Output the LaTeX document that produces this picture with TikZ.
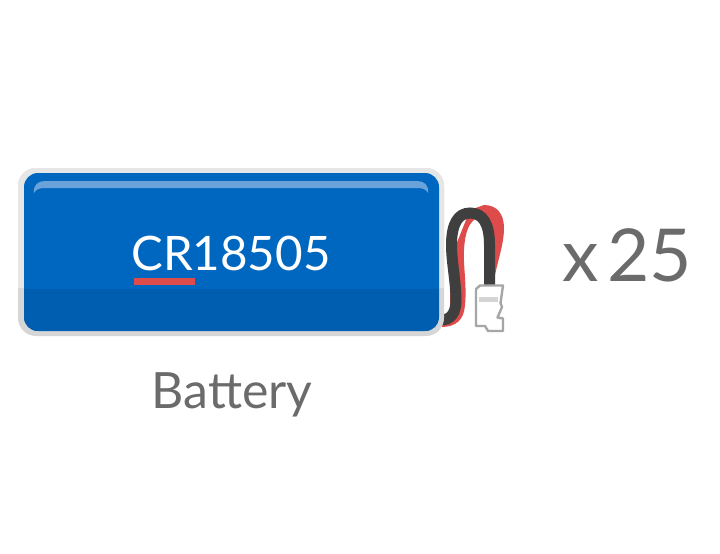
\documentclass[tikz,border=0pt]{standalone}
\usepackage{fontspec}
\setmainfont{Lato}
\definecolor{rimtop}{HTML}{E6E6E6}
\definecolor{rimbot}{HTML}{D6D6D6}
\definecolor{bluetop}{HTML}{0067C0}
\definecolor{bluebot}{HTML}{005EB0}
\definecolor{gleam}{HTML}{69A3DA}
\definecolor{wirered}{HTML}{DE4B4B}
\definecolor{wireblack}{HTML}{3F3F3F}
\definecolor{plug}{HTML}{A6A6A6}
\definecolor{plugbar}{HTML}{D4D4D4}
\definecolor{labelgrey}{HTML}{6B6B6B}
\tikzset{
  lbl/.style={inner sep=0pt,anchor=base,text=labelgrey},
}
\begin{document}
\begin{tikzpicture}[x=1pt,y=-1pt]
\useasboundingbox (0,0) rectangle (720,554);
\fill[white] (0,0) rectangle (720,554);
% red wire
\fill[wirered] (441,327) .. controls (456,327) and (464,320) .. (465,305)
  .. controls (467,285) and (463,265) .. (464,250)
  .. controls (465,232) and (469,222) .. (477,218)
  -- (484,225) -- (485,285) -- (493,285)
  .. controls (497,262) and (504,245) .. (504,228)
  .. controls (504,214) and (497,205) .. (484,205)
  -- (470,210) -- (450,260) -- (450,315) -- cycle;
% black wire
\draw[wireblack,line width=11pt] (441,320) .. controls (450,320) and (456,314) .. (456,300)
  .. controls (456,282) and (451.5,262) .. (451.5,245)
  .. controls (451.5,224) and (458,213) .. (470,213)
  .. controls (483,213) and (489.5,224) .. (489.5,245)
  -- (489.5,290);
% battery
\fill[rimbot] (18,186) arc[start angle=180,end angle=270,radius=18] -- (426,168) arc[start angle=270,end angle=360,radius=18] -- (444,318) arc[start angle=0,end angle=90,radius=18] -- (36,336) arc[start angle=90,end angle=180,radius=18] -- cycle;
\fill[rimtop] (18,288) -- (18,186) arc[start angle=180,end angle=270,radius=18] -- (426,168) arc[start angle=270,end angle=360,radius=18] -- (444,288) -- cycle;
\fill[bluetop,rounded corners=14pt] (24,173) rectangle (439,331);
\begin{scope}
\clip[rounded corners=14pt] (24,173) rectangle (439,331);
\fill[bluebot] (24,289) rectangle (439,331);
\end{scope}
% gleam
\fill[gleam] (34,193) .. controls (33,185) and (38,181) .. (45,181) -- (417,181) .. controls (424,181) and (429,185) .. (428,193) .. controls (426,189) and (422,188) .. (417,188) -- (45,188) .. controls (40,188) and (36,189) .. (34,193) -- cycle;
% label
\node[lbl,text=white,font=\fontsize{47.5}{47.5}\selectfont] (model) at (231,270) {CR18505};
\fill[wirered] (134,278) rectangle (195,285);
\node[lbl,font=\fontsize{50}{50}\selectfont] (name) at (232,408) {Battery};
\node[lbl,font=\fontsize{73}{73}\selectfont,anchor=base west] (count) at (562,281) {x\kern9pt 25};
% connector
\path[fill=white,draw=plug,line width=2.4pt,line join=round] (480,285.5) -- (503,285.5) -- (500.5,303) -- (502,307) -- (497.5,317.5) -- (503,318.5) -- (503,331) -- (488,331) -- (485,326) -- (476,326) -- (476,289) -- cycle;
\fill[plugbar] (479,297) rectangle (498,302);
\end{tikzpicture}
\end{document}
